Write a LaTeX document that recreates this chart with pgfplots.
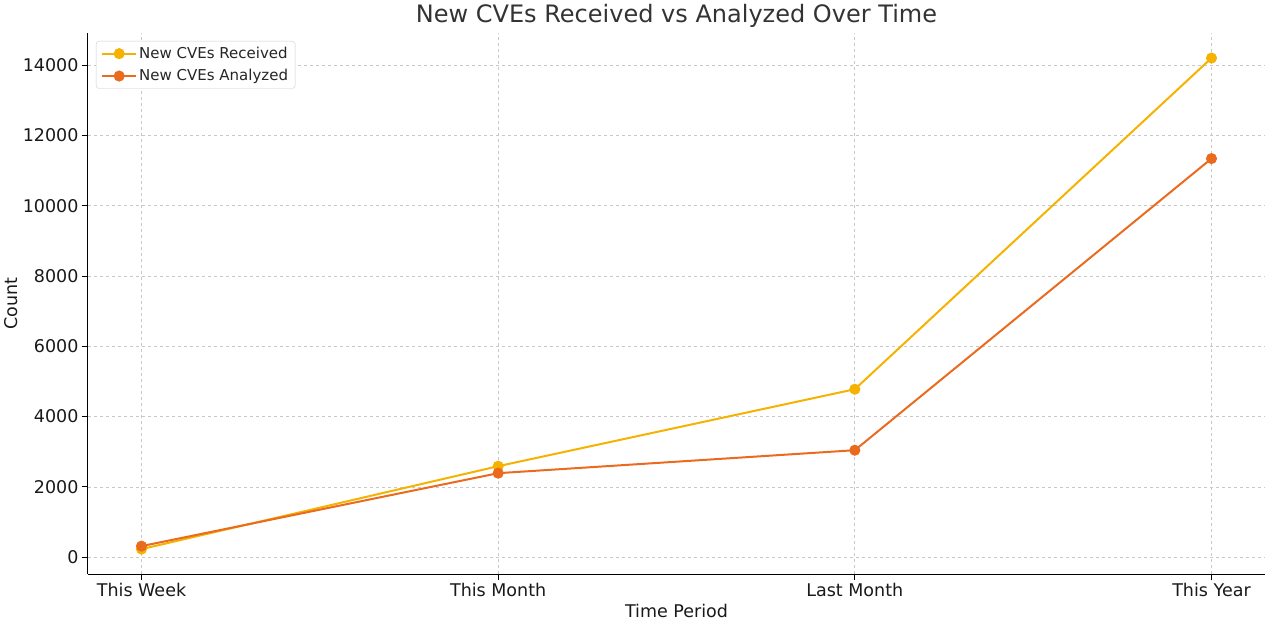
\documentclass[border=0pt]{standalone}
\usepackage{fontspec}
\setmainfont{DejaVu Sans}
\usepackage{pgfplots}
\pgfplotsset{compat=1.18}
\definecolor{recv}{RGB}{245,178,0}
\definecolor{anal}{RGB}{234,106,30}
\definecolor{gridgray}{RGB}{200,200,200}

\begin{document}
\begin{tikzpicture}
\begin{axis}[
    at={(0,0)}, anchor=south west,
    scale only axis,
    width=1177pt, height=541pt,
    xmin=-0.15, xmax=3.15,
    ymin=-480, ymax=14920,
    xtick={0,1,2,3},
    xticklabels={This Week, This Month, Last Month, This Year},
    ytick={0,2000,...,14000},
    scaled y ticks=false,
    /pgf/number format/1000 sep={},
    /pgf/number format/assume math mode=true,
    tick label style={font=\fontsize{17.5}{20}\selectfont, text=black!90},
    axis x line*=bottom, axis y line*=left,
    axis line style={line width=1pt, -},
    tick align=outside,
    major tick length=6pt,
    tick style={line width=1pt, black},
    grid=major,
    major grid style={gridgray, dashed, line width=0.7pt},
    title={New CVEs Received vs Analyzed Over Time},
    title style={font=\fontsize{24}{26}\selectfont, text=black!80, yshift=-4pt},
    xlabel={Time Period},
    ylabel={Count},
    label style={font=\fontsize{17.5}{20}\selectfont, text=black!90},
    ylabel style={yshift=-2pt},
    legend style={at={(0,1)}, anchor=north west, xshift=8pt, yshift=-8pt,
        font=\fontsize{15}{18}\selectfont, draw=black!20, rounded corners=3pt,
        text=black!85, row sep=5.5pt, inner xsep=5pt, inner ysep=4pt},
    legend cell align=left,
    legend image code/.code={
        \draw[mark repeat=2, mark phase=2] plot coordinates {(0pt,0pt) (17pt,0pt) (34pt,0pt)};
    },
    every axis plot/.append style={line width=2pt},
]
\addplot[recv, mark=*, mark size=4.5pt, mark options={solid, fill=recv, draw=recv}] coordinates {
    (0, 228) (1, 2589) (2, 4780) (3, 14207)
};
\addlegendentry{New CVEs Received}
\addplot[anal, mark=*, mark size=4.5pt, mark options={solid, fill=anal, draw=anal}] coordinates {
    (0, 313) (1, 2390) (2, 3044) (3, 11345)
};
\addlegendentry{New CVEs Analyzed}
\end{axis}
\useasboundingbox (-88pt,-56pt) rectangle (1179pt,574pt);
\end{tikzpicture}
\end{document}
